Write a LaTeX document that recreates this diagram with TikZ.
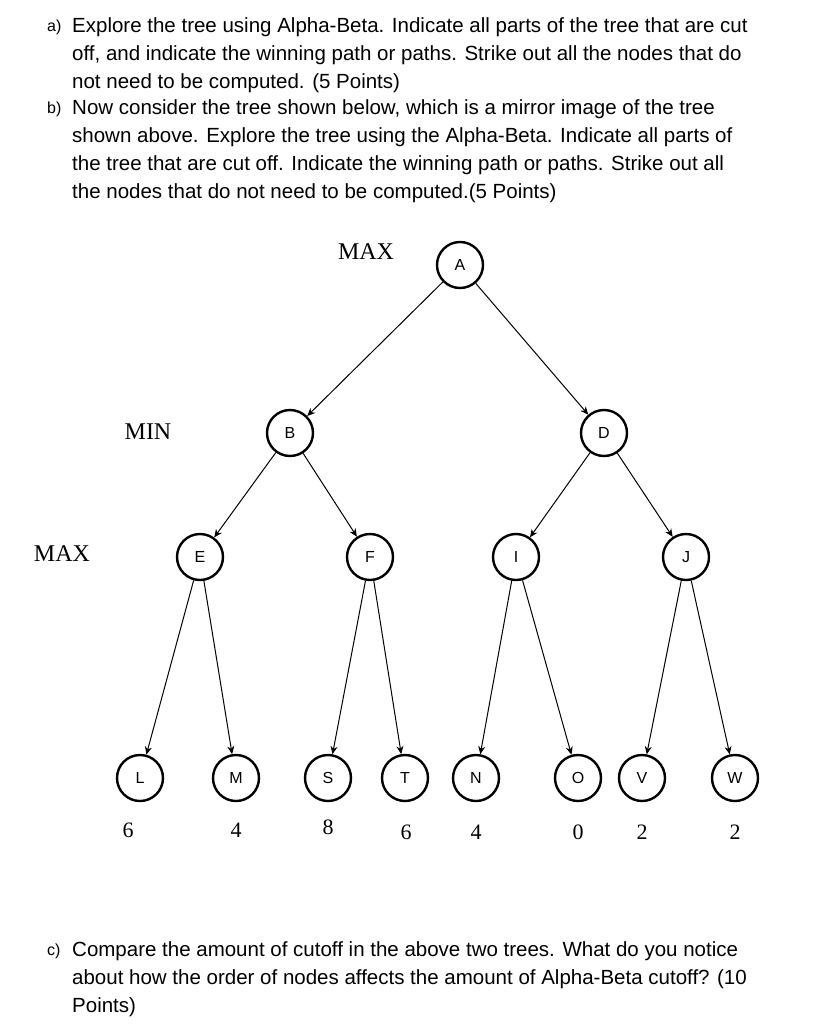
\documentclass[tikz,border=0pt]{standalone}
\usepackage{fontspec}
\setmainfont{Liberation Sans}
\newfontfamily\serifx{Liberation Serif}
\usetikzlibrary{arrows.meta}
\begin{document}
\begin{tikzpicture}[x=1pt,y=-1pt,
  nd/.style={circle,draw,line width=2.4pt,minimum size=46pt,inner sep=0pt,font=\fontsize{16}{18}\selectfont},
  ed/.style={-{Stealth[length=8pt,width=7pt]},line width=1pt},
  txt/.style={anchor=west,inner sep=0pt,font=\fontsize{20.5}{24}\selectfont},
  lab/.style={anchor=west,inner sep=0pt,font=\fontsize{16}{18}\selectfont},
  val/.style={font=\serifx\fontsize{22}{24}\selectfont,inner sep=0pt},
  lvl/.style={font=\serifx\fontsize{24}{26}\selectfont,inner sep=0pt}]
\useasboundingbox (0,0) rectangle (827,1036);
\node[lab] (la) at (47,27) {a)};
\node[txt] (a1) at (72,27) {Explore the tree using Alpha-Beta. Indicate all parts of the tree that are cut};
\node[txt] (a2) at (72,55) {off, and indicate the winning path or paths. Strike out all the nodes that do};
\node[txt] (a3) at (72,83) {not need to be computed. (5 Points)};
\node[lab] (lb) at (47,109) {b)};
\node[txt] (b1) at (72,109) {Now consider the tree shown below, which is a mirror image of the tree};
\node[txt] (b2) at (72,137) {shown above. Explore the tree using the Alpha-Beta. Indicate all parts of};
\node[txt] (b3) at (72,165) {the tree that are cut off. Indicate the winning path or paths. Strike out all};
\node[txt] (b4) at (72,193) {the nodes that do not need to be computed.(5 Points)};
\node[lab] (lc) at (47,951) {c)};
\node[txt] (c1) at (72,951) {Compare the amount of cutoff in the above two trees. What do you notice};
\node[txt] (c2) at (72,979) {about how the order of nodes affects the amount of Alpha-Beta cutoff? (10};
\node[txt] (c3) at (72,1007) {Points)};
\node[lvl] (m1) at (366,252) {MAX};
\node[lvl] (m2) at (148,432) {MIN};
\node[lvl] (m3) at (62,554) {MAX};
\node[nd] (A) at (460,265) {A};
\node[nd] (B) at (290,433) {B};
\node[nd] (D) at (604,433) {D};
\node[nd] (E) at (200,557) {E};
\node[nd] (F) at (370,557) {F};
\node[nd] (I) at (516,557) {I};
\node[nd] (J) at (686,557) {J};
\node[nd] (L) at (140,778) {L};
\node[nd] (M) at (236,778) {M};
\node[nd] (S) at (328,778) {S};
\node[nd] (T) at (405,778) {T};
\node[nd] (N) at (476,778) {N};
\node[nd] (O) at (578,778) {O};
\node[nd] (V) at (642,778) {V};
\node[nd] (W) at (735,778) {W};
\foreach \p/\c in {A/B,A/D,B/E,B/F,D/I,D/J,E/L,E/M,F/S,F/T,I/N,I/O,J/V,J/W}
  \draw[ed] (\p) -- (\c);
\node[val] (vL) at (128,830) {6};
\node[val] (vM) at (236,830) {4};
\node[val] (vS) at (328,827) {8};
\node[val] (vT) at (406,832) {6};
\node[val] (vN) at (476,832) {4};
\node[val] (vO) at (578,832) {0};
\node[val] (vV) at (642,832) {2};
\node[val] (vW) at (735,832) {2};
\end{tikzpicture}
\end{document}
